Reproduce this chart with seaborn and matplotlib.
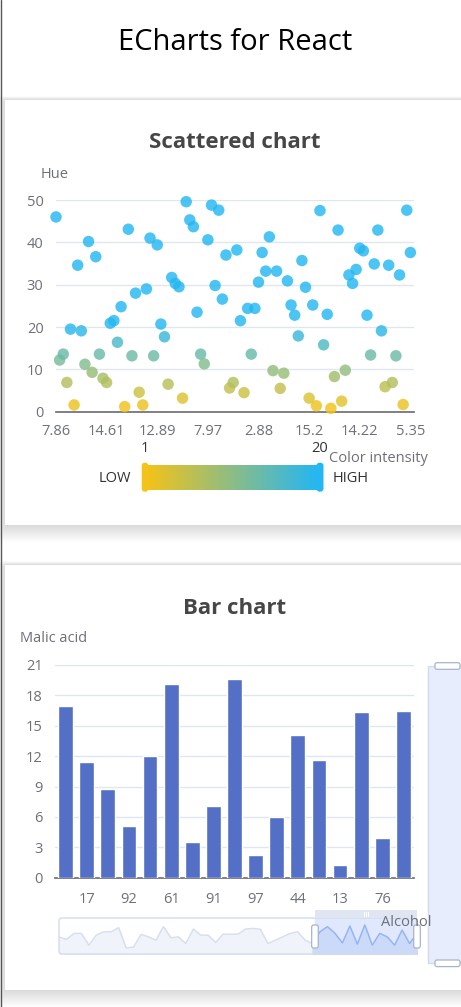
import matplotlib
matplotlib.use("Agg")
import matplotlib.pyplot as plt
import numpy as np
import pandas as pd
import seaborn as sns
from matplotlib.colors import LinearSegmentedColormap
from matplotlib.patches import FancyBboxPatch, Rectangle

W, H = 461, 1007

# --- scatter: one point per category, in axis order ---
hue_values = [
    46.0, 12.2, 13.6, 6.9, 19.5, 1.6, 34.6, 19.1, 11.2, 40.2,
    9.3, 36.6, 13.6, 7.9, 6.9, 20.9, 21.5, 16.4, 24.8, 1.2,
    43.1, 13.2, 28.0, 4.6, 1.6, 29.0, 41.0, 13.2, 39.4, 20.7,
    17.7, 6.5, 31.7, 30.3, 29.5, 3.2, 49.6, 45.3, 43.7, 23.5,
    13.6, 11.3, 40.6, 48.8, 29.8, 47.6, 26.6, 37.0, 5.6, 6.9,
    38.2, 21.5, 4.5, 24.4, 13.6, 24.4, 30.6, 37.6, 33.2, 41.3,
    9.7, 33.2, 5.5, 9.1, 30.9, 25.2, 22.8, 17.9, 35.7, 29.4,
    3.2, 25.2, 1.4, 47.5, 15.8, 23.0, 0.8, 8.3, 42.9, 2.5,
    9.8, 32.3, 30.3, 33.6, 38.6, 38.0, 22.8, 13.4, 34.9, 42.9,
    19.1, 5.9, 34.6, 6.9, 13.2, 32.3, 1.7, 47.6, 37.6,
]
scatter_tick_labels = ["7.86", "14.61", "12.89", "7.97", "2.88", "15.2", "14.22", "5.35"]
scatter_label_interval = 14
scatter_yticks = [0, 10, 20, 30, 40, 50]
visual_min, visual_max = 1, 20

# --- bar chart (visible window of the data zoom) ---
bar_values = [17.0, 11.4, 8.8, 5.1, 12.0, 19.1, 3.5, 7.1, 19.6, 2.2,
              6.0, 14.1, 11.6, 1.3, 16.4, 3.9, 16.5]
bar_tick_labels = ["17", "92", "61", "91", "97", "44", "13", "76"]
bar_yticks = [0, 3, 6, 9, 12, 15, 18, 21]
shadow_values = [
    10.3, 8.2, 13.0, 13.0, 3.7, 11.6, 14.3, 14.3, 17.5, 1.5,
    2.3, 12.2, 10.3, 7.7, 18.3, 9.5, 10.3, 5.0, 16.4, 11.6,
    11.6, 5.8, 12.4, 12.4, 12.4, 16.4, 17.0, 16.2, 5.0, 7.7,
    10.3, 13.0, 14.3, 7.7, 5.0, 14.3, 18.3, 13.0, 5.5, 18.8,
    4.5, 19.6, 3.7, 13.0, 10.3, 3.7, 15.6, 5.0, 13.0,
]
zoom_start, zoom_end = 71.5, 100.0

AXIS_GREY = "#6e7079"
GRID = "#e0e6f1"
TITLE = "#464646"
BAR = "#5470c6"
YELLOW, BLUE = "#f2c31a", "#24b7f2"
LABEL_SIZE = 10.5

sns.set_theme(style="white")
plt.rcParams["font.family"] = ["Open Sans", "DejaVu Sans"]

fig = plt.figure(figsize=(W / 100, H / 100), dpi=100)
fig.patch.set_facecolor("white")


def box(x0, y0, x1, y1):
    return [x0 / W, 1 - y1 / H, (x1 - x0) / W, (y1 - y0) / H]


# pixel-space background layer for cards
bg = fig.add_axes([0, 0, 1, 1], zorder=0)
bg.set_xlim(0, W)
bg.set_ylim(H, 0)
bg.axis("off")
bg.plot([0.5, 0.5], [0, H], color="#555555", lw=1)
for top, bottom in [(100, 525), (565, 990)]:
    for k in range(12, 0, -1):
        bg.add_patch(FancyBboxPatch((5 - k * 0.6, top - k * 0.3), 470 + k, bottom - top + k * 1.7,
                                    boxstyle="round,pad=0,rounding_size=3",
                                    fc="black", ec="none", alpha=0.013))
    bg.add_patch(Rectangle((5, top), 470, bottom - top, fc="white", ec="none"))

fig.text(235 / W, 1 - 43 / H, "ECharts for React", ha="center", va="center",
         fontsize=21, color="black")

# ---------------- scatter chart ----------------
fig.text(235 / W, 1 - 143 / H, "Scattered chart", ha="center", va="center",
         fontsize=16, fontweight="bold", color=TITLE)
fig.text(55 / W, 1 - 174 / H, "Hue", ha="center", va="center", fontsize=LABEL_SIZE, color=AXIS_GREY)

cmap = LinearSegmentedColormap.from_list("intensity", [YELLOW, BLUE])
ax1 = fig.add_axes(box(56, 200, 414, 411.7), zorder=2)
ax1.patch.set_alpha(0)
scatter_df = pd.DataFrame({"pos": np.arange(len(hue_values)), "hue": hue_values})
sns.scatterplot(data=scatter_df, x="pos", y="hue", hue="hue", palette=cmap,
                hue_norm=(visual_min, visual_max), s=68, alpha=0.82, linewidth=0,
                legend=False, ax=ax1, clip_on=False, zorder=3)
ax1.set_xlim(0, len(hue_values))
ax1.set_ylim(0, 50)
tick_pos = list(range(0, len(hue_values), scatter_label_interval))
ax1.set_xticks(tick_pos + [len(hue_values)])
ax1.set_xticklabels(scatter_tick_labels + [""])
ax1.set_yticks(scatter_yticks)
ax1.set_yticklabels([str(v) for v in scatter_yticks])
ax1.grid(axis="y", color=GRID, lw=1)
ax1.set_axisbelow(True)
for s in ["top", "right", "left"]:
    ax1.spines[s].set_visible(False)
ax1.spines["bottom"].set_color(AXIS_GREY)
ax1.tick_params(axis="x", colors=AXIS_GREY, length=5, width=1, direction="out",
                pad=4, labelsize=LABEL_SIZE)
ax1.tick_params(axis="y", colors=AXIS_GREY, length=0, pad=9, labelsize=LABEL_SIZE)
ax1.set_xlabel("")
ax1.set_ylabel("")

fig.text(329 / W, 1 - 459 / H, "Color intensity", ha="left", va="center",
         fontsize=LABEL_SIZE, color=AXIS_GREY)

# visual map gradient
axv = fig.add_axes(box(148, 465, 318, 490), zorder=2)
axv.imshow(np.linspace(0, 1, 256)[None, :], aspect="auto", cmap=cmap,
           extent=[0, 1, 0, 1])
axv.axis("off")
fig.text(145 / W, 1 - 449 / H, str(visual_min), ha="center", va="center", fontsize=LABEL_SIZE, color="#333333")
fig.text(320 / W, 1 - 449 / H, str(visual_max), ha="center", va="center", fontsize=LABEL_SIZE, color="#333333")
fig.text(131 / W, 1 - 479 / H, "LOW", ha="right", va="center", fontsize=LABEL_SIZE, color="#333333")
fig.text(333 / W, 1 - 479 / H, "HIGH", ha="left", va="center", fontsize=LABEL_SIZE, color="#333333")

# ---------------- bar chart ----------------
fig.text(235 / W, 1 - 608 / H, "Bar chart", ha="center", va="center",
         fontsize=16, fontweight="bold", color=TITLE)
fig.text(20 / W, 1 - 639 / H, "Malic acid", ha="left", va="center", fontsize=LABEL_SIZE, color=AXIS_GREY)

ax2 = fig.add_axes(box(55, 665, 414, 877.7), zorder=2)
ax2.patch.set_alpha(0)
bar_df = pd.DataFrame({"cat": np.arange(len(bar_values)), "val": bar_values})
sns.barplot(data=bar_df, x="cat", y="val", color=BAR, saturation=1, width=0.7,
            ax=ax2, zorder=3)
ax2.set_xlim(-0.5, len(bar_values) - 0.5)
ax2.set_ylim(0, 21)
major = np.arange(0.5, len(bar_values), 2)
ax2.set_xticks(major)
ax2.set_xticklabels([""] * len(major))
ax2.set_xticks(np.arange(1, len(bar_values) - 1, 2), minor=True)
ax2.set_xticklabels(bar_tick_labels, minor=True)
ax2.set_yticks(bar_yticks)
ax2.set_yticklabels([str(v) for v in bar_yticks])
ax2.grid(axis="y", color=GRID, lw=1)
ax2.set_axisbelow(True)
for s in ["top", "right", "left"]:
    ax2.spines[s].set_visible(False)
ax2.spines["bottom"].set_color(AXIS_GREY)
ax2.tick_params(axis="x", which="major", colors=AXIS_GREY, length=5, width=1)
ax2.tick_params(axis="x", which="minor", colors=AXIS_GREY, length=0, pad=10, labelsize=LABEL_SIZE)
ax2.tick_params(axis="y", colors=AXIS_GREY, length=0, pad=9, labelsize=LABEL_SIZE)
ax2.set_xlabel("")
ax2.set_ylabel("")

# data zoom slider with shadow
axs = fig.add_axes(box(59, 918, 417, 954), zorder=2)
n = len(shadow_values)
sx = np.linspace(0, 100, n)
lo, hi = min(shadow_values), max(shadow_values)
rng = hi - lo
axs.axis("off")
shadow_df = pd.DataFrame({"x": sx, "v": shadow_values})
axs.fill_between(sx, shadow_values, lo - rng, color="#f1f3fa", zorder=1)
sns.lineplot(data=shadow_df, x="x", y="v", color="#d6def0", lw=1, ax=axs, zorder=2)
sel = sx >= zoom_start - 1
axs.axvspan(zoom_start, zoom_end, color="#dfe8fc", zorder=0)
axs.fill_between(sx[sel], np.array(shadow_values)[sel], lo - rng, color="#cbdaf8", zorder=3)
axs.plot(sx[sel], np.array(shadow_values)[sel], color="#94b3f5", lw=1, zorder=4)
axs.set_xlim(0, 100)
axs.set_ylim(lo - rng * 6 / 23, hi + rng * 7 / 23)

fg = fig.add_axes([0, 0, 1, 1], zorder=5)
fg.set_xlim(0, W)
fg.set_ylim(H, 0)
fg.axis("off")
fg.patch.set_alpha(0)
fg.add_patch(FancyBboxPatch((59, 918), 358, 36, boxstyle="round,pad=0,rounding_size=3",
                            fc="none", ec="#d2dbee", lw=1))
x_sel0 = 59 + 358 * zoom_start / 100
x_sel1 = 59 + 358 * zoom_end / 100
fg.add_patch(Rectangle((x_sel0, 910), x_sel1 - x_sel0, 8, fc="#dfe5f1", ec="none"))
for dx in (-2, 0, 2):
    fg.plot([(x_sel0 + x_sel1) / 2 + dx] * 2, [912, 915.5], color="white", lw=0.8)
for hx in (x_sel0, x_sel1):
    fg.add_patch(FancyBboxPatch((hx - 3.3, 925), 6.6, 23, boxstyle="round,pad=0,rounding_size=2",
                                fc="white", ec="#a8b4cc", lw=0.9))
fg.text(406, 923, "Alcohol", ha="center", va="center", fontsize=LABEL_SIZE, color=AXIS_GREY)

# vertical slider on the right
fg.add_patch(Rectangle((428, 665.7), 50, 297.3, fc="#e7edfc", ec="#d2dbee", lw=1))
for hy in (662.7, 960):
    fg.add_patch(FancyBboxPatch((435, hy), 25, 6.6, boxstyle="round,pad=0,rounding_size=2",
                                fc="white", ec="#a8b4cc", lw=0.9))

# visual map handles
fg.add_patch(FancyBboxPatch((141.7, 462.7), 6.6, 29, boxstyle="round,pad=0,rounding_size=3",
                            fc=YELLOW, ec="none"))
fg.add_patch(FancyBboxPatch((316.5, 462.7), 7, 29, boxstyle="round,pad=0,rounding_size=3",
                            fc=BLUE, ec="none"))

fig.savefig("out.png", dpi=100)
